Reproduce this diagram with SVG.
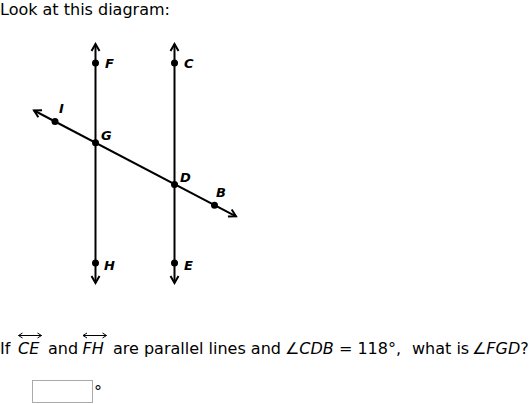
<svg xmlns="http://www.w3.org/2000/svg" width="530" height="404" viewBox="0 0 530 404">
<style>
.t{font-family:"DejaVu Sans","Verdana",sans-serif;font-size:16px;fill:#000}
.i{font-style:italic}
.lbl{font-family:"DejaVu Sans","Verdana",sans-serif;font-size:13px;font-weight:bold;font-style:italic;fill:#000}
.ln{stroke:#000;stroke-width:2;fill:none}
.pt{fill:#000}
.oa{stroke:#000;stroke-width:1;fill:none}
</style>
<defs>
<marker id="arr" markerUnits="userSpaceOnUse" markerWidth="12" markerHeight="12" viewBox="-10 -6 12 12" refX="0" refY="0" orient="auto-start-reverse">
<path d="M-7,-4 L0,0 L-7,4" stroke="#000" stroke-width="2" fill="none"/>
</marker>
<marker id="sarr" markerUnits="userSpaceOnUse" markerWidth="8" markerHeight="8" viewBox="-5 -4 6 8" refX="0" refY="0" orient="auto-start-reverse">
<path d="M-4,-2.5 L0,0 L-4,2.5" stroke="#000" stroke-width="1" fill="none"/>
</marker>
</defs>
<rect width="530" height="404" fill="#fff"/>
<text class="t" x="0" y="14.5">Look at this diagram:</text>
<g id="connectors">
<line id="lineFH" class="ln" x1="95.5" y1="44" x2="95.5" y2="283" marker-start="url(#arr)" marker-end="url(#arr)"/>
<line id="lineCE" class="ln" x1="174.5" y1="44" x2="174.5" y2="283" marker-start="url(#arr)" marker-end="url(#arr)"/>
<line id="lineIB" class="ln" x1="34" y1="110.5" x2="236" y2="216.3" marker-start="url(#arr)" marker-end="url(#arr)"/>
</g>
<g id="node-F"><circle class="pt" cx="95.5" cy="63" r="3.5"/><text class="lbl" x="105" y="68">F</text></g>
<g id="node-C"><circle class="pt" cx="174.5" cy="63" r="3.5"/><text class="lbl" x="184" y="68">C</text></g>
<g id="node-I"><circle class="pt" cx="55" cy="121.5" r="3.5"/><text class="lbl" x="59" y="113">I</text></g>
<g id="node-G"><circle class="pt" cx="95.5" cy="142.7" r="3.5"/><text class="lbl" x="101" y="140">G</text></g>
<g id="node-D"><circle class="pt" cx="174.5" cy="184.5" r="3.5"/><text class="lbl" x="180" y="182">D</text></g>
<g id="node-B"><circle class="pt" cx="214.5" cy="205.3" r="3.5"/><text class="lbl" x="216" y="197">B</text></g>
<g id="node-H"><circle class="pt" cx="95.5" cy="263" r="3.5"/><text class="lbl" x="104" y="270">H</text></g>
<g id="node-E"><circle class="pt" cx="174.5" cy="263" r="3.5"/><text class="lbl" x="184" y="270">E</text></g>
<g id="question">
<text class="t" y="354"><tspan x="0">If</tspan> <tspan x="18" class="i">CE</tspan> <tspan x="48">and</tspan> <tspan x="82.5" class="i">FH</tspan> <tspan x="113">are parallel lines and</tspan> <tspan x="285">∠</tspan><tspan class="i">CDB</tspan> = 118°, <tspan x="412">what is</tspan> <tspan x="472">∠</tspan><tspan class="i">FGD</tspan>?</text>
<line class="oa" x1="18.5" y1="335.5" x2="41.5" y2="335.5" marker-start="url(#sarr)" marker-end="url(#sarr)"/>
<line class="oa" x1="83" y1="335.5" x2="106.5" y2="335.5" marker-start="url(#sarr)" marker-end="url(#sarr)"/>
</g>
<g id="answer">
<rect x="32.5" y="380.5" width="60" height="22" fill="#fff" stroke="#aaa" stroke-width="1"/>
<text class="t" x="94" y="397">°</text>
</g>
</svg>
